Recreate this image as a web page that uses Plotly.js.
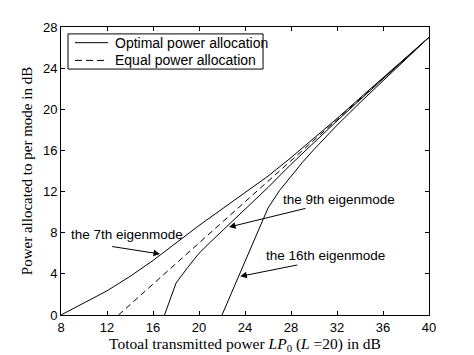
<!DOCTYPE html>
<html>
<head>
<meta charset="utf-8">
<script src="https://cdn.plot.ly/plotly-3.0.1.min.js"></script>
<style>html,body{margin:0;padding:0;background:#fff;}#chart{width:474px;height:355px;}</style>
</head>
<body>
<div id="chart"></div>
<script>
// Equal power allocation
const xEqual = [13, 40];
const yEqual = [0, 27];
// Optimal power allocation: 7th eigenmode
const x7 = [8, 10, 12, 14, 16, 18, 20, 22, 24, 26, 28, 30, 32, 34, 36, 38, 40];
const y7 = [0, 1.2, 2.35, 3.75, 5.3, 7.0, 8.7, 10.3, 11.9, 13.5, 15.3, 17.2, 19.1, 21.1, 23.05, 25.0, 27.0];
// 9th eigenmode
const x9 = [17, 18, 19, 20, 21, 22, 23, 24, 25, 26, 28, 30, 32, 34, 36, 38, 40];
const y9 = [0, 3.1, 4.6, 6.0, 7.1, 8.15, 9.2, 10.25, 11.3, 12.4, 14.65, 16.8, 18.87, 20.92, 22.95, 24.97, 27.0];
// 16th eigenmode
const x16 = [22, 24, 26, 27, 28, 29, 30, 32, 34, 36, 38, 40];
const y16 = [0, 5.2, 10.4, 12.1, 13.5, 14.85, 16.1, 18.45, 20.65, 22.8, 24.88, 27.0];

const xTicks = [8, 12, 16, 20, 24, 28, 32, 36, 40];
const yTicks = [0, 4, 8, 12, 16, 20, 24, 28];

const legendNames = ['Optimal power allocation', 'Equal power allocation'];
const labels = ['the 7th eigenmode', 'the 9th eigenmode', 'the 16th eigenmode'];
const labelX = [13.78, 32.15, 31.04];
const labelY = [7.87, 11.27, 5.78];
const arrowTailX = [12.32, 29.39, 28.67];
const arrowTailY = [6.68, 10.4, 4.89];
const arrowHeadX = [16.61, 22.61, 23.59];
const arrowHeadY = [5.93, 8.55, 3.76];

const lineStyle = {color: '#000', width: 1};
const dashStyle = {color: '#000', width: 1, dash: '6px,4px'};
const traces = [
  {x: x7, y: y7, mode: 'lines', line: lineStyle, name: legendNames[0]},
  {x: xEqual, y: yEqual, mode: 'lines', line: dashStyle, name: legendNames[1]},
  {x: x9, y: y9, mode: 'lines', line: lineStyle},
  {x: x16, y: y16, mode: 'lines', line: lineStyle}
];

const sans = 'Liberation Sans, Arial, sans-serif';
const serif = 'Liberation Serif, Times New Roman, serif';

const annotations = [];
for (let i = 0; i < labels.length; i++) {
  annotations.push({x: labelX[i], y: labelY[i], xref: 'x', yref: 'y', text: labels[i], showarrow: false,
    font: {family: sans, size: 13.5, color: '#000'}});
  annotations.push({x: arrowHeadX[i], y: arrowHeadY[i], xref: 'x', yref: 'y', axref: 'x', ayref: 'y',
    ax: arrowTailX[i], ay: arrowTailY[i], text: '', showarrow: true, arrowhead: 2, arrowsize: 1.3,
    arrowwidth: 1, arrowcolor: '#000', standoff: 0, startstandoff: 0});
}

// Legend drawn as a box with sample lines (paper coordinates)
const legRowY = [0.9455, 0.884];
const shapes = [
  {type: 'rect', xref: 'paper', yref: 'paper', x0: 0.019, x1: 0.549, y0: 0.854, y1: 0.976,
    line: {color: '#000', width: 1}, fillcolor: '#fff', layer: 'above'}
];
for (let i = 0; i < legendNames.length; i++) {
  shapes.push({type: 'line', xref: 'paper', yref: 'paper', x0: 0.038, x1: 0.128, y0: legRowY[i], y1: legRowY[i],
    line: {color: '#000', width: 1, dash: i === 0 ? 'solid' : '7px,4px'}, layer: 'above'});
  annotations.push({xref: 'paper', yref: 'paper', x: 0.1413, y: legRowY[i], xanchor: 'left', yanchor: 'middle',
    text: legendNames[i], showarrow: false, font: {family: sans, size: 14, color: '#000'}});
}

const axisCommon = {
  showline: true, linecolor: '#000', linewidth: 1, mirror: 'ticks',
  ticks: 'inside', ticklen: 4, tickwidth: 1, tickcolor: '#000',
  showgrid: false, zeroline: false,
  tickfont: {family: sans, size: 13, color: '#000'}
};

const layout = {
  width: 474, height: 355,
  margin: {l: 61, r: 45, t: 27, b: 40},
  paper_bgcolor: '#fff', plot_bgcolor: '#fff',
  xaxis: Object.assign({}, axisCommon, {
    range: [8, 40], tickvals: xTicks, ticktext: xTicks.map(String),
    title: {text: 'Totoal transmitted power <i>L</i><i>P</i><sub>0</sub> (<i>L</i> =20) in dB', font: {family: serif, size: 15.5, color: '#000'}, standoff: 3}
  }),
  yaxis: Object.assign({}, axisCommon, {
    range: [0, 28], tickvals: yTicks, ticktext: yTicks.map(String),
    title: {text: 'Power allocated to per mode in dB', font: {family: serif, size: 15, color: '#000'}, standoff: 6}
  }),
  showlegend: false,
  shapes: shapes,
  annotations: annotations
};

Plotly.newPlot('chart', traces, layout, {displayModeBar: false, staticPlot: true});
</script>
</body>
</html>
